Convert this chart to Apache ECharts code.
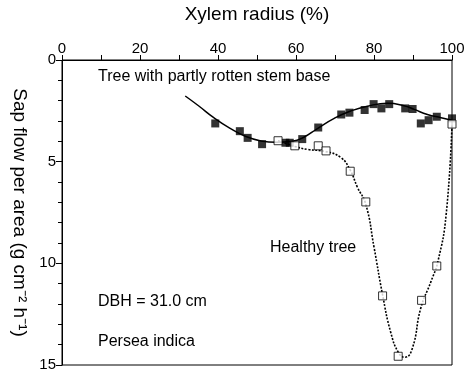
<!DOCTYPE html>
<html><head><meta charset="utf-8">
<script src="https://cdn.jsdelivr.net/npm/echarts@6/dist/echarts.min.js"></script>
<style>html,body{margin:0;padding:0;background:#fff}#c{width:474px;height:380px}</style>
</head><body><div id="c"></div>
<script>
// Tree with partly rotten stem base: measured points [xylem radius %, sap flow]
var rottenX = [39.3, 45.6, 47.6, 51.3, 57.3, 58.4, 61.6, 65.7, 71.6, 73.7, 77.6, 79.9, 81.9, 83.9, 88.0, 89.9, 92.0, 94.0, 96.1, 100];
var rottenY = [3.12, 3.5, 3.83, 4.14, 4.07, 4.07, 3.89, 3.32, 2.68, 2.59, 2.46, 2.17, 2.38, 2.17, 2.38, 2.41, 3.12, 2.96, 2.79, 2.87];
// fitted curve of rotten tree
var rottenFitX = [31.6, 35, 39, 43, 47, 51, 55, 59, 62, 65.5, 69.8, 74, 78.3, 83.5, 87.7, 90.3, 93.7, 97.2, 100];
var rottenFitY = [1.77, 2.25, 2.85, 3.35, 3.75, 3.98, 4.05, 4.0, 3.8, 3.37, 2.87, 2.51, 2.27, 2.13, 2.25, 2.43, 2.68, 2.84, 2.96];
// Healthy tree: measured points
var healthyX = [55.4, 59.7, 65.7, 67.7, 73.9, 77.9, 82.2, 86.2, 92.2, 96.1, 100];
var healthyY = [3.97, 4.22, 4.22, 4.47, 5.47, 6.98, 11.6, 14.57, 11.82, 10.13, 3.15];
// fitted curve of healthy tree
var healthyFitX = [55.4, 59.7, 63, 67.5, 71.5, 73.9, 75.7, 77.9, 80, 82.2, 84.3, 86.3, 87.9, 89.8, 92, 94.6, 96.4, 98.5, 100];
var healthyFitY = [3.97, 4.25, 4.4, 4.5, 4.8, 5.42, 6.24, 7.1, 9.2, 11.55, 13.4, 14.4, 14.62, 14.2, 12.2, 10.9, 9.9, 7.6, 3.15];
var xTicks = [0, 20, 40, 60, 80, 100];
var yTicks = [0, 5, 10, 15];

function zip(a, b) { return a.map(function (v, i) { return [v, b[i]]; }); }
var FONT = "'Liberation Sans', Arial, sans-serif";
var chart = echarts.init(document.getElementById('c'));
chart.setOption({
  animation: false,
  backgroundColor: '#fff',
  grid: { left: 62, top: 60, width: 390, height: 305, show: true, borderColor: '#000', borderWidth: 1, backgroundColor: 'transparent' },
  xAxis: {
    type: 'value', position: 'top', min: xTicks[0], max: xTicks[xTicks.length - 1], interval: 20,
    name: 'Xylem radius (%)', nameLocation: 'middle', nameGap: 36,
    nameTextStyle: { fontFamily: FONT, fontSize: 19, color: '#000' },
    axisLine: { lineStyle: { color: '#000', width: 1 } },
    axisTick: { show: true, length: 5, inside: false, lineStyle: { color: '#000' } },
    minorTick: { show: true, splitNumber: 2, length: 5, lineStyle: { color: '#000' } },
    axisLabel: { fontFamily: FONT, fontSize: 15, color: '#000', margin: 4 },
    splitLine: { show: false }
  },
  yAxis: {
    type: 'value', inverse: true, min: yTicks[0], max: yTicks[yTicks.length - 1], interval: 5,
    name: 'Sap flow per area (g cm\u207B\u00B2 h\u207B\u00B9)', nameLocation: 'middle', nameGap: 33, nameRotate: -90,
    nameTextStyle: { fontFamily: FONT, fontSize: 19, color: '#000' },
    axisLine: { lineStyle: { color: '#000', width: 1 } },
    axisTick: { show: true, length: 6, lineStyle: { color: '#000' } },
    minorTick: { show: true, splitNumber: 5, length: 4, lineStyle: { color: '#000' } },
    axisLabel: { fontFamily: FONT, fontSize: 15, color: '#000', margin: 6 },
    splitLine: { show: false }
  },
  series: [
    { type: 'line', data: zip(rottenFitX, rottenFitY), smooth: 0.5, showSymbol: false, symbol: 'none',
      lineStyle: { color: '#000', width: 1.5 }, z: 2 },
    { type: 'line', data: zip(healthyFitX, healthyFitY), smooth: 0.5, showSymbol: false, symbol: 'none',
      lineStyle: { color: '#000', width: 1.6, type: [2, 1.5] }, z: 2 },
    { type: 'scatter', data: zip(rottenX, rottenY), symbol: 'rect', symbolSize: 8,
      itemStyle: { color: '#000' }, z: 3 },
    { type: 'scatter', data: zip(healthyX, healthyY), symbol: 'rect', symbolSize: 8,
      itemStyle: { color: '#fff', borderColor: '#000', borderWidth: 1 }, z: 4 }
  ],
  graphic: [
    { type: 'text', left: 98, top: 69, style: { text: 'Tree with partly rotten stem base', font: '16px ' + FONT, fill: '#000' } },
    { type: 'text', left: 270, top: 240, style: { text: 'Healthy tree', font: '16px ' + FONT, fill: '#000' } },
    { type: 'text', left: 98, top: 294, style: { text: 'DBH = 31.0 cm', font: '16px ' + FONT, fill: '#000' } },
    { type: 'text', left: 98, top: 334, style: { text: 'Persea indica', font: '16px ' + FONT, fill: '#000' } }
  ]
});
</script></body></html>
